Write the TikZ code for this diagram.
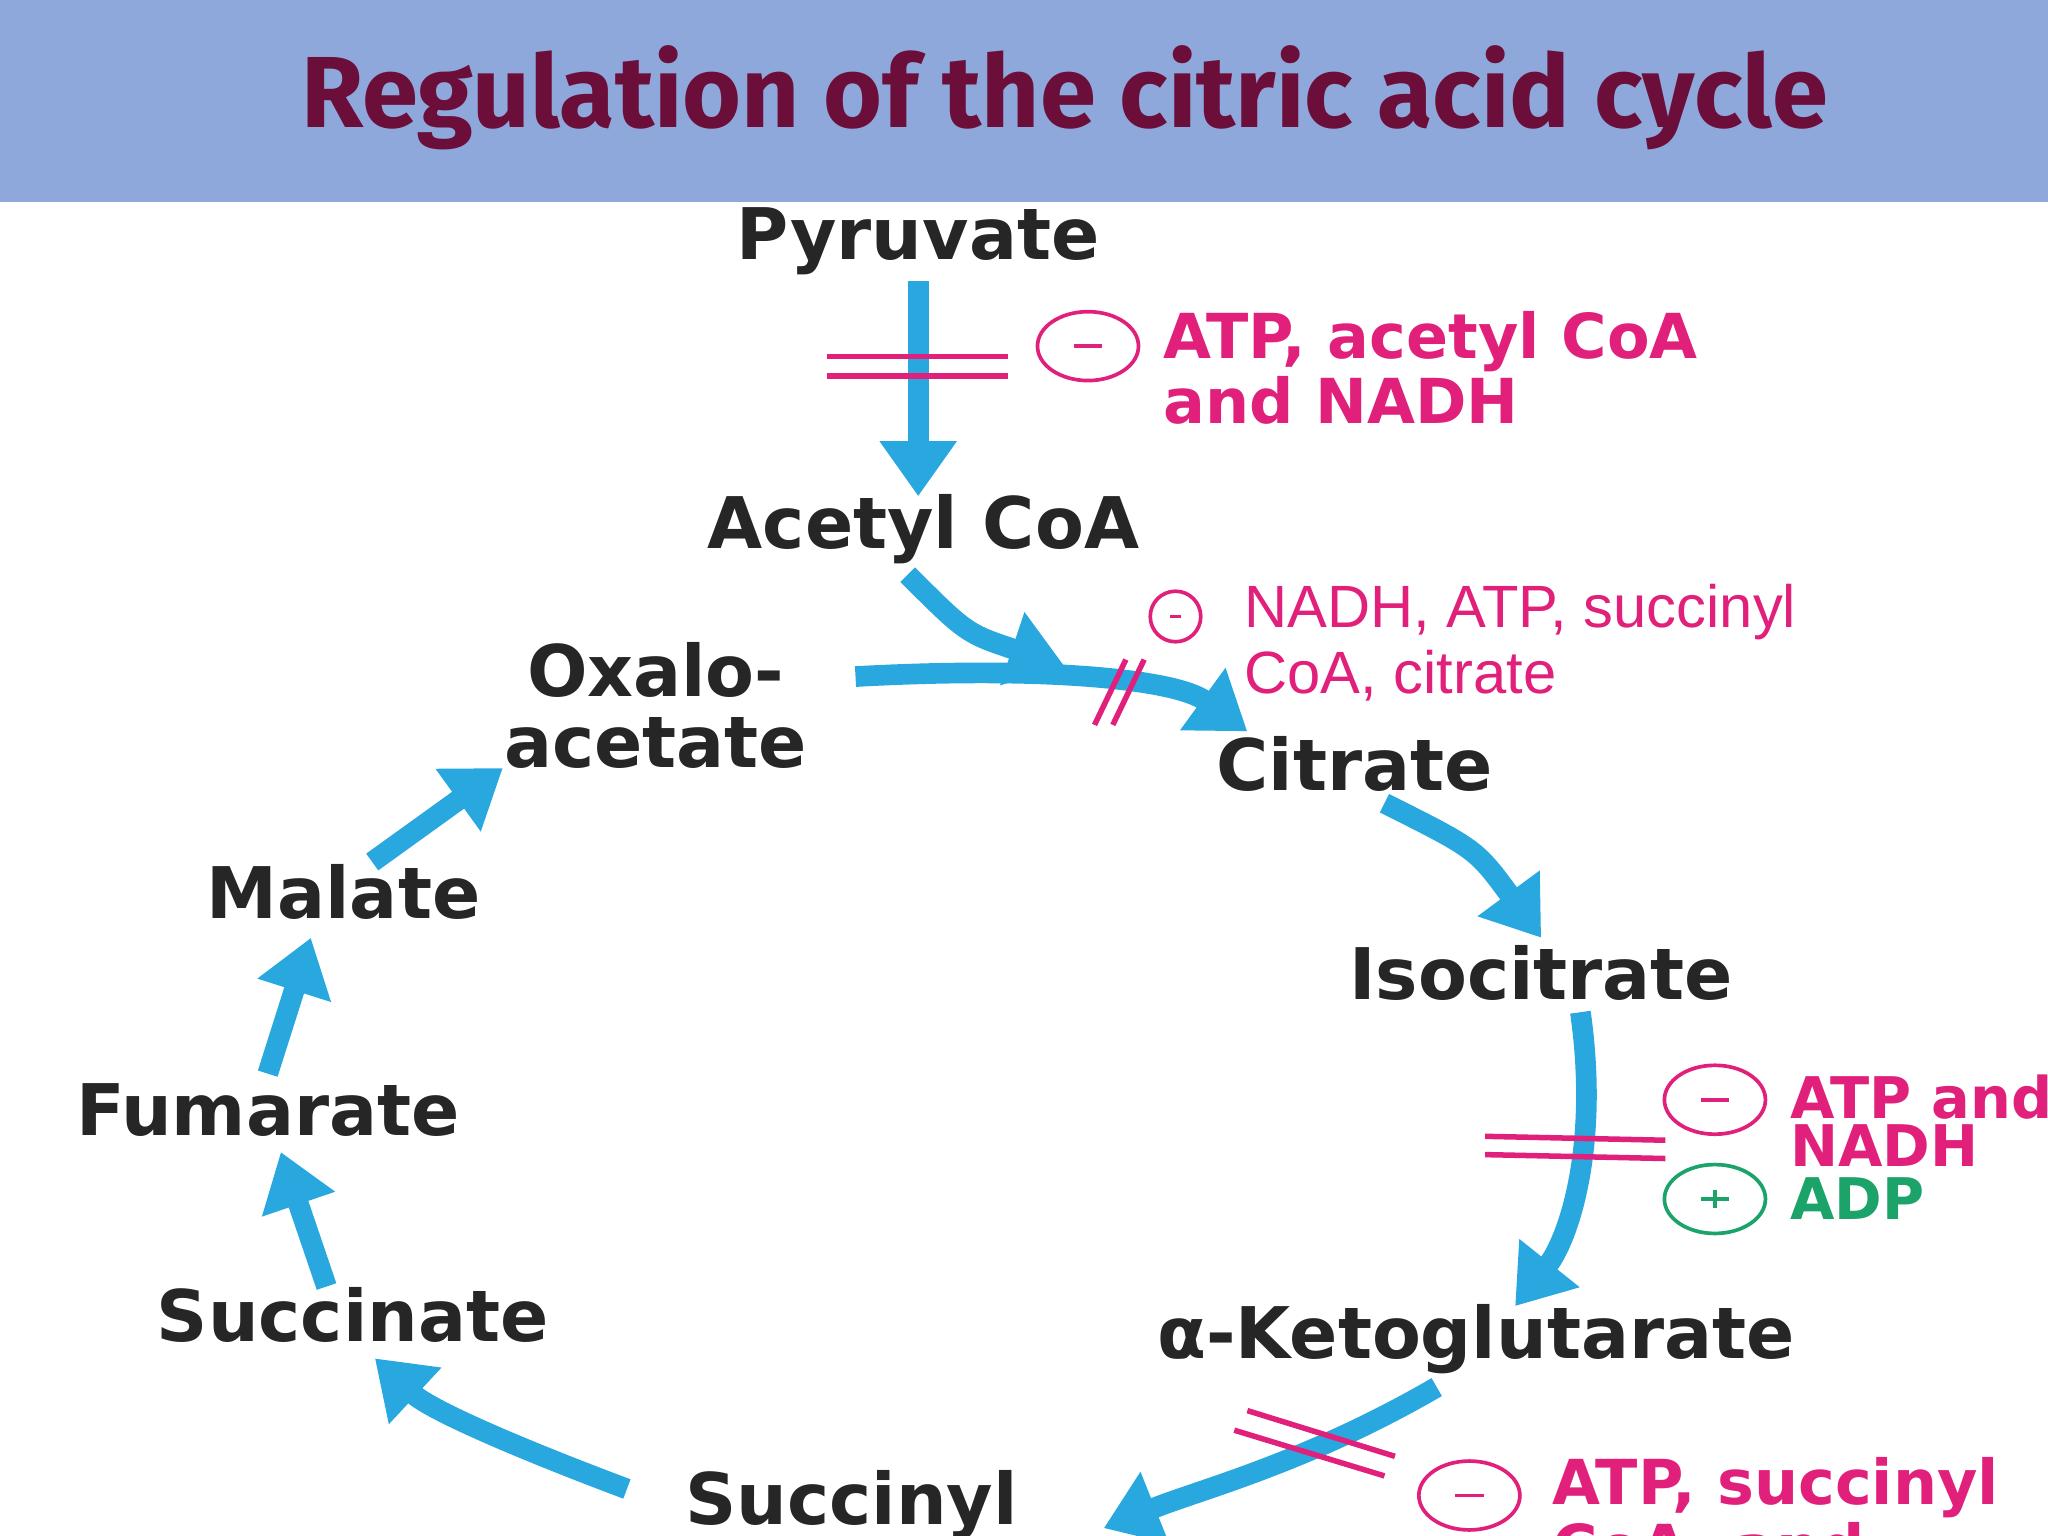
\documentclass[tikz,border=0pt]{standalone}
\usepackage{fontspec}
\setmainfont{DejaVu Sans}
\newfontfamily\arial{Liberation Sans}
\newfontfamily\titlef{Fira Sans}
\usetikzlibrary{arrows.meta,shapes.geometric}
\definecolor{band}{HTML}{8FA8DC}
\definecolor{ttl}{HTML}{6B0F3A}
\definecolor{pk}{HTML}{E0207A}
\definecolor{gr}{HTML}{1BA36A}
\definecolor{ab}{HTML}{29A8E0}
\tikzset{
 met/.style={font=\fontsize{15.5}{15.5}\selectfont\bfseries, text=black!85, align=center, inner sep=0},
 flow/.style={ab, line width=4.5pt, -{Triangle[length=12pt,width=16pt]}},
 bar/.style={pk, line width=1.2pt},
 reg/.style={font=\fontsize{13.5}{11}\selectfont\bfseries, text=pk, anchor=west, align=left, inner sep=0},
 oval/.style={draw=pk, thick, ellipse, minimum width=22pt, minimum height=15pt, inner sep=0},
}
\begin{document}
\begin{tikzpicture}[x=0.01cm,y=-0.01cm]
\useasboundingbox (0,0) rectangle (1568,1176);
\clip (0,0) rectangle (1568,1176);
\fill[band] (0,0) rectangle (1568,155);
\node[font=\titlef\fontsize{22}{22}\selectfont\bfseries, text=ttl] (title) at (815,75) {Regulation of the citric acid cycle};
\node[met] (pyr) at (703,185) {Pyruvate};
\node[met] (aca) at (707,405) {Acetyl CoA};
\node[met] (oxa) at (502,540) {Oxalo-\\[0pt]acetate};
\node[met] (cit) at (1037,585) {Citrate};
\node[met] (iso) at (1180,745) {Isocitrate};
\node[met] (akg) at (1130,1025) {α-Ketoglutarate};
\node[met] (suc) at (652,1152) {Succinyl};
\node[met] (sct) at (270,1007) {Succinate};
\node[met] (fum) at (205,850) {Fumarate};
\node[met] (mal) at (263,683) {Malate};
% arrows
\draw[flow] (703,215) -- (703,380);
\draw[flow] (695,440) .. controls (740,485) .. (815,510);
\draw[flow] (655,518) .. controls (800,510) and (900,520) .. (955,560);
\draw[flow] (1060,615) .. controls (1130,650) .. (1180,718);
\draw[flow] (1210,775) .. controls (1225,880) and (1200,950) .. (1160,1000);
\draw[flow] (1100,1062) .. controls (1000,1120) and (920,1140) .. (845,1170);
\draw[flow] (480,1140) .. controls (400,1110) and (330,1080) .. (287,1040);
\draw[flow] (250,985) -- (215,882);
\draw[flow] (205,822) -- (238,718);
\draw[flow] (285,660) -- (385,588);
% regulation 1
\draw[bar] (633,273) -- (772,273); \draw[bar] (633,288) -- (772,288);
\node[oval] (m1) at (833,265) {};
\draw[pk, thick] (822,265) -- (844,265);
\node[reg] (r1) at (890,282) {ATP, acetyl CoA\\and NADH};
% regulation 2
\draw[bar] (838,555) -- (862,505); \draw[bar] (852,555) -- (876,505);
\node[draw=pk, thick, circle, minimum size=11pt, inner sep=0] (m2) at (900,472) {};
\draw[pk, thick] (896,472) -- (904,472);
\node[reg, font=\arial\fontsize{13}{14.3}\selectfont] (r2) at (952,492) {NADH, ATP, succinyl\\CoA, citrate};
% regulation 3
\draw[bar] (1137,870) -- (1275,873); \draw[bar] (1137,884) -- (1275,887);
\node[oval] (m3) at (1313,842) {};
\draw[pk, thick] (1302,842) -- (1324,842);
\node[reg, font=\fontsize{12.5}{10.5}\selectfont\bfseries] (r3) at (1370,858) {ATP and\\NADH};
\node[oval, draw=gr] (p3) at (1313,918) {};
\draw[gr, thick] (1302,918) -- (1324,918); \draw[gr, thick] (1313,911) -- (1313,925);
\node[reg, text=gr, font=\fontsize{12.5}{10.5}\selectfont\bfseries] (r4) at (1370,918) {ADP};
% regulation 4
\draw[bar] (945,1095) -- (1060,1130); \draw[bar] (955,1080) -- (1068,1115);
\node[oval] (m4) at (1125,1145) {};
\draw[pk, thick] (1114,1145) -- (1136,1145);
\node[reg] (r5) at (1188,1162) {ATP, succinyl\\CoA, and};
\end{tikzpicture}
\end{document}
